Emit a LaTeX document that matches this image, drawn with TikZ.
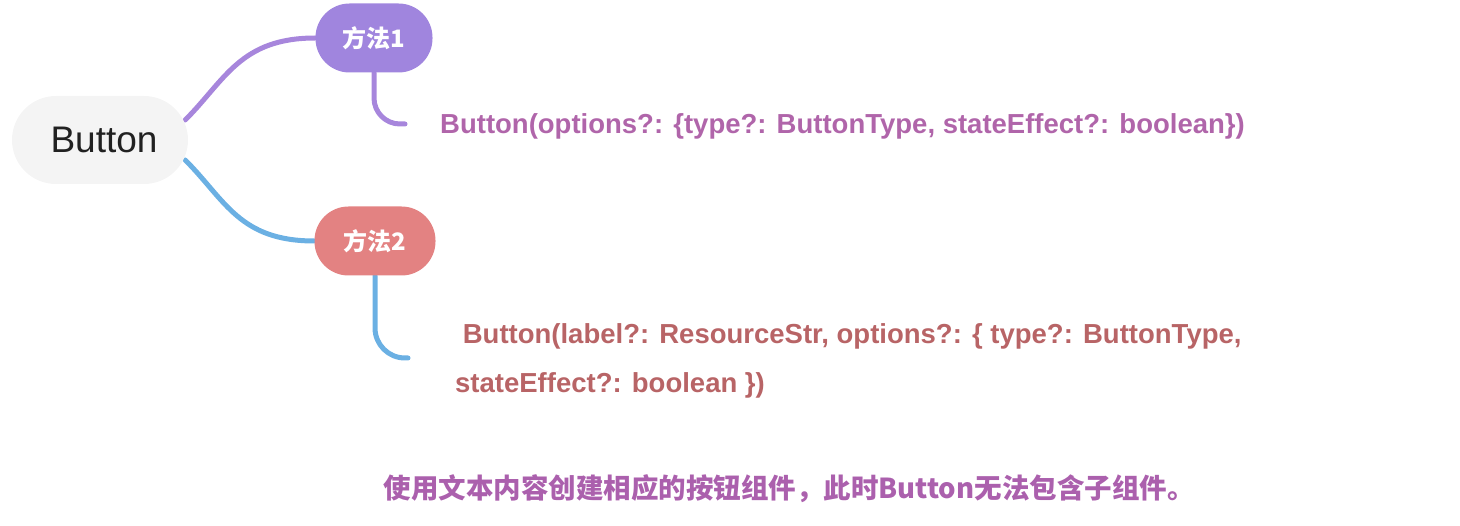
\documentclass[tikz,border=0pt]{standalone}
\usepackage{fontspec}
\setmainfont{Liberation Sans}
\newfontfamily\cjk{Noto Sans CJK SC}
\usepackage{xcolor}
\usetikzlibrary{positioning,backgrounds}

\definecolor{rootgray}{HTML}{F4F4F4}
\definecolor{lilac}{HTML}{A085DE}
\definecolor{salmon}{HTML}{E38282}
\definecolor{lilacline}{HTML}{A786DC}
\definecolor{skyline}{HTML}{6BB0E3}
\definecolor{plumtext}{HTML}{B065AA}
\definecolor{rosetext}{HTML}{B86466}
\definecolor{notetext}{HTML}{AB60AD}

\begin{document}
\begin{tikzpicture}[
    x=1pt, y=-1pt,
    rootbox/.style={rectangle, fill=rootgray, rounded corners=44pt, minimum width=176pt, minimum height=88pt, inner sep=0pt, font=\fontsize{37}{40}\selectfont, text=black!87},
    method/.style={rectangle, rounded corners=34pt, minimum height=69pt, inner sep=0pt, text=white, font=\cjk\bfseries\fontsize{24}{28}\selectfont},
    code/.style={inner sep=0pt, align=left, font=\bfseries\fontsize{27.5}{49}\selectfont},
    branch/.style={line width=5pt, line cap=round}
]
\useasboundingbox (0,0) rectangle (1460,526);

% Root and methods
\node[rootbox] (root) at (100,140) {\hspace*{8pt}Button};
\node[method, fill=lilac, minimum width=117pt] (m1) at (374,38) {方法1};
\node[method, fill=salmon, minimum width=121pt] (m2) at (375,241) {方法2};

% Signatures
\node[code, text=plumtext, anchor=base west] (sig1) at (440,134) {Button(options?: \{type?: ButtonType, stateEffect?: boolean\})};
\node[code, text=rosetext, anchor=base west] (sig2) at (455,393) {\ Button(label?: ResourceStr, options?: \{ type?: ButtonType,\\stateEffect?: boolean \})};
\coordinate (e1) at (405,124);
\coordinate (e2) at (408,358);

% Note
\node[text=notetext, font=\cjk\bfseries\fontsize{27.5}{30}\selectfont] (note) at (789,489) {使用文本内容创建相应的按钮组件，此时Button无法包含子组件。};

% Branches
\begin{scope}[on background layer]
\draw[branch, lilacline] ([xshift=-3pt,yshift=20pt]root.east) .. controls +(40,-40) and +(-75,0) .. (m1.west);
\draw[branch, skyline] ([xshift=-3pt,yshift=-20pt]root.east) .. controls +(40,40) and +(-75,0) .. (m2.west);
\draw[branch, lilacline, rounded corners=26pt] (m1.south) |- (e1);
\draw[branch, skyline, rounded corners=30pt] (m2.south) |- (e2);
\end{scope}

\end{tikzpicture}
\end{document}
